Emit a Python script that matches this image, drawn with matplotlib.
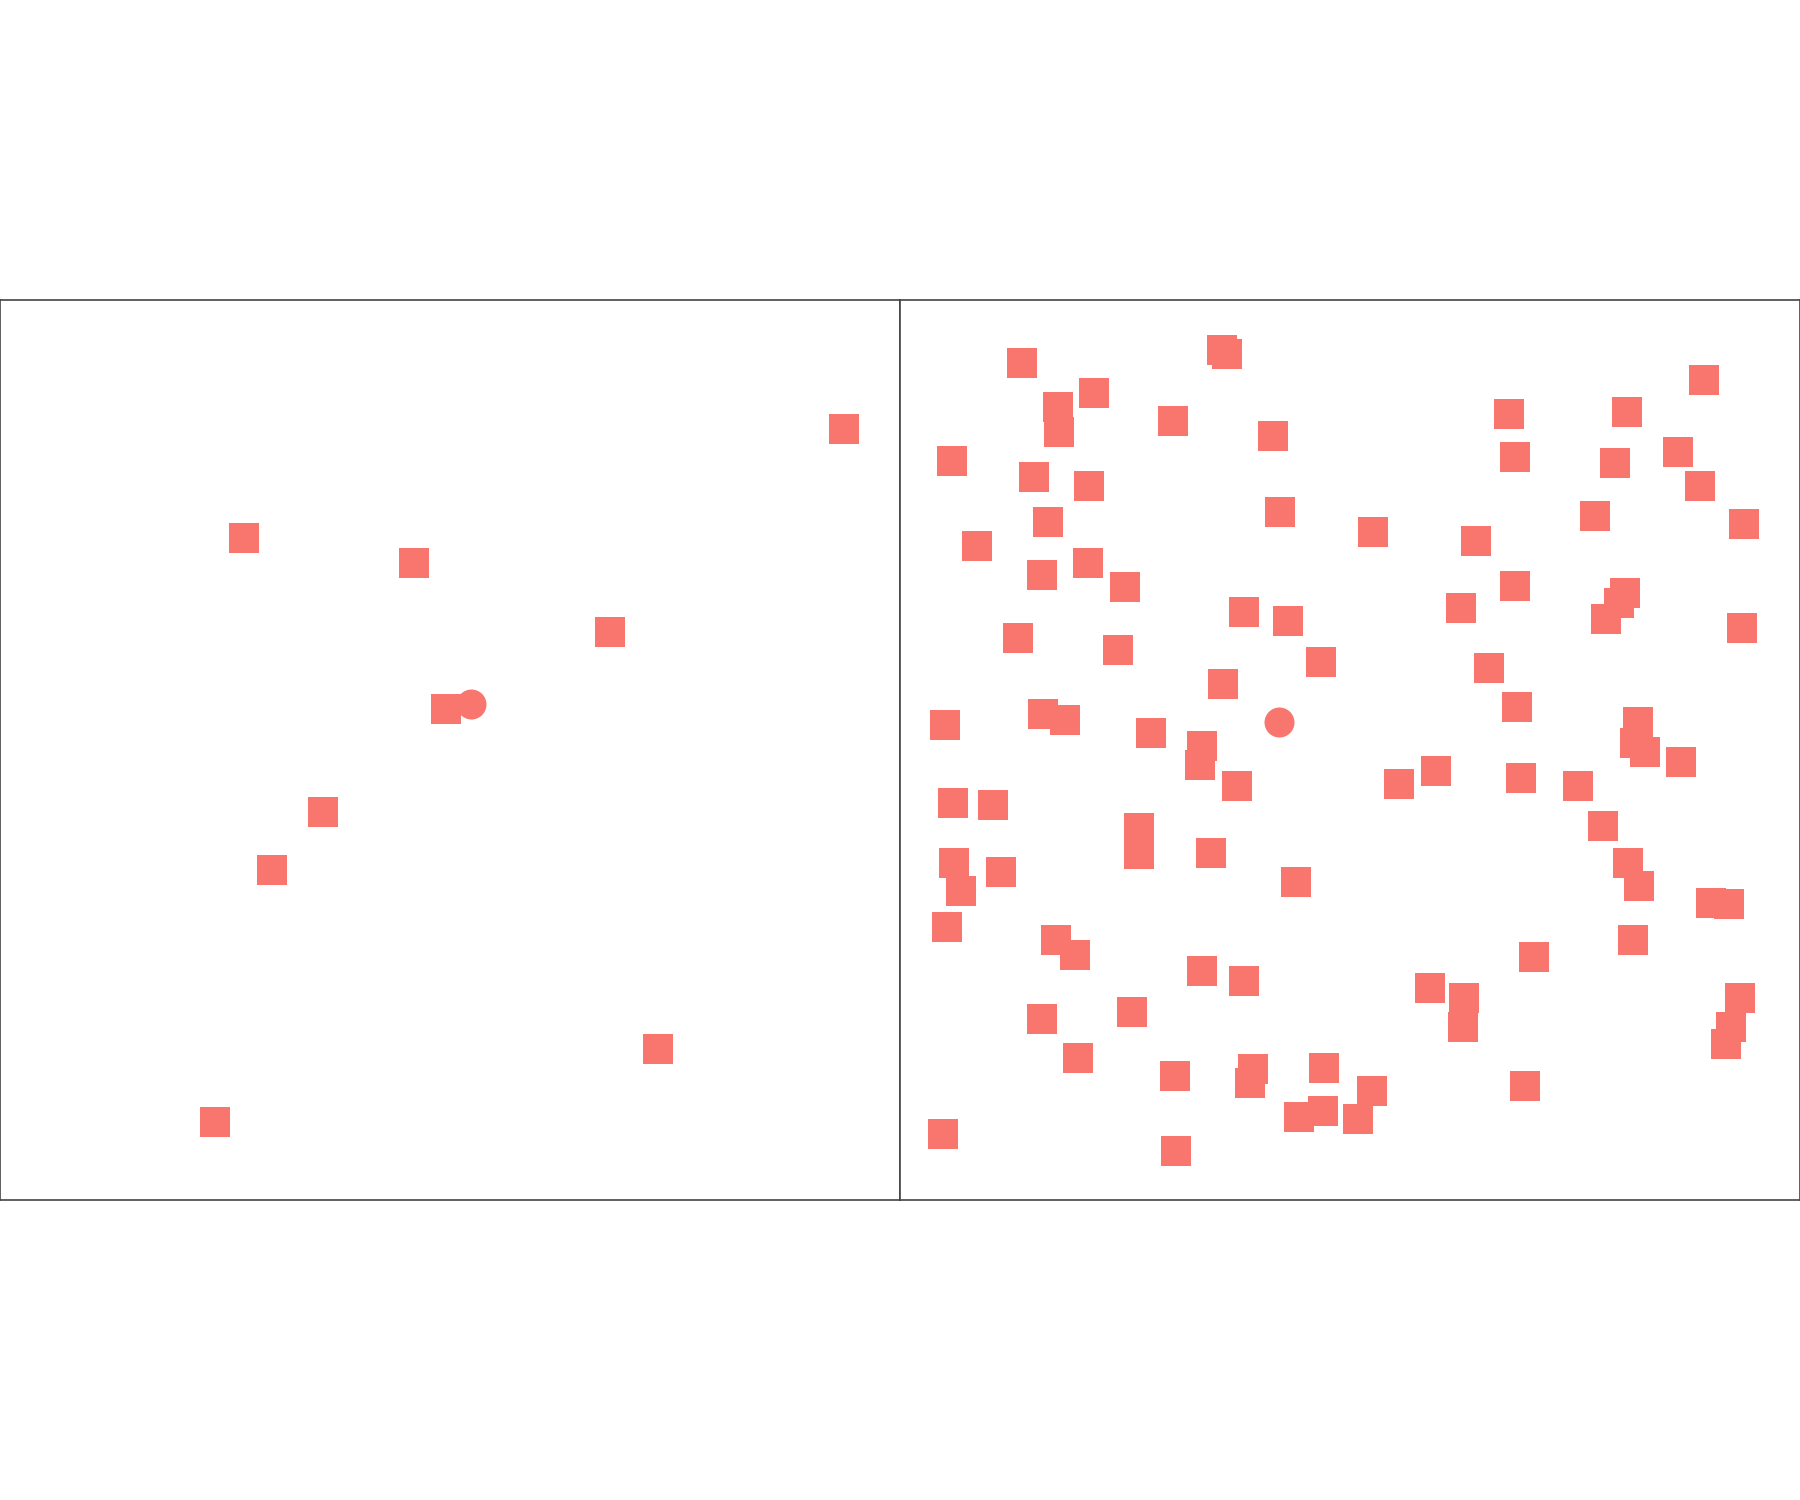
import matplotlib
matplotlib.use("Agg")
import matplotlib.pyplot as plt

# left panel: points and their centre
left_x = [844, 244, 414, 610, 446, 323, 272, 658, 215]
left_y = [771, 662, 637.5, 568, 491, 388, 330, 151.5, 78]
left_cx = [471]
left_cy = [496]

# right panel
right_x = [122, 321.5, 326.5, 194, 158, 158.5, 273, 373, 51.5, 133.5, 189, 380, 147.5,
           76.5, 187.5, 141.5, 225, 344, 387.5, 118, 217.5, 421, 323, 45, 143, 165, 251, 302,
           804, 608.5, 727, 614.5, 714.5, 777.5, 800, 694.5, 844, 473, 575.5, 614.5, 560.5,
           725, 719, 706, 842, 589, 617, 738, 735, 745, 781,
           300, 336.5, 52.5, 93, 239, 238.5, 310.5, 53.5, 60.5, 101, 396, 47, 156, 174.5,
           301.5, 344, 142, 232, 178, 275, 353, 349.5, 423.5, 399, 423, 458, 42.5, 275.5,
           498.5, 536, 621, 677.5, 702.5, 728, 738.5, 811, 829, 732.5, 634, 529.5, 564, 563,
           840, 831, 825.5, 472, 625]
right_y = [837, 850, 846.5, 807, 793.5, 768, 779, 764.5, 739, 723, 714.5, 688.5, 678.5,
           654.5, 637, 625, 613, 588, 579, 562, 550, 538, 516, 475, 486, 480, 467, 454.5,
           820, 786.5, 788.5, 743.5, 737.5, 748, 714, 684, 676, 668.5, 659.5, 614, 592,
           607.5, 597, 581.5, 572, 532, 493, 478.5, 457, 448, 438.5,
           435, 414.5, 397, 395, 372.5, 346.5, 347, 337, 309, 328.5, 318, 273, 260.5, 245,
           229, 219, 181, 188.5, 142.5, 124.5, 131, 117, 132, 83, 89, 81, 66, 49.5,
           416, 429, 422.5, 414, 374, 337, 314, 297, 296.5, 260.5, 243.5, 212.5, 202, 173,
           202.5, 173, 156.5, 109.5, 114]
right_cx = [379]
right_cy = [478]

color = "#F8766D"
msize = 21.6 ** 2

fig = plt.figure(figsize=(18, 15), dpi=100)
ax1 = fig.add_axes([0.0, 0.2, 0.5, 0.6])
ax2 = fig.add_axes([0.5, 0.2, 0.5, 0.6])

for ax, xs, ys, cx, cy in [(ax1, left_x, left_y, left_cx, left_cy),
                           (ax2, right_x, right_y, right_cx, right_cy)]:
    ax.scatter(xs, ys, s=msize, marker="s", color=color, linewidths=0)
    ax.scatter(cx, cy, s=msize, marker="o", color=color, linewidths=0)
    ax.set_xlim(0, 900)
    ax.set_ylim(0, 900)
    ax.set_xticks([])
    ax.set_yticks([])
    for sp in ax.spines.values():
        sp.set_color("#444444")
        sp.set_linewidth(1.2)

fig.savefig("out.png", dpi=100, facecolor="white")
